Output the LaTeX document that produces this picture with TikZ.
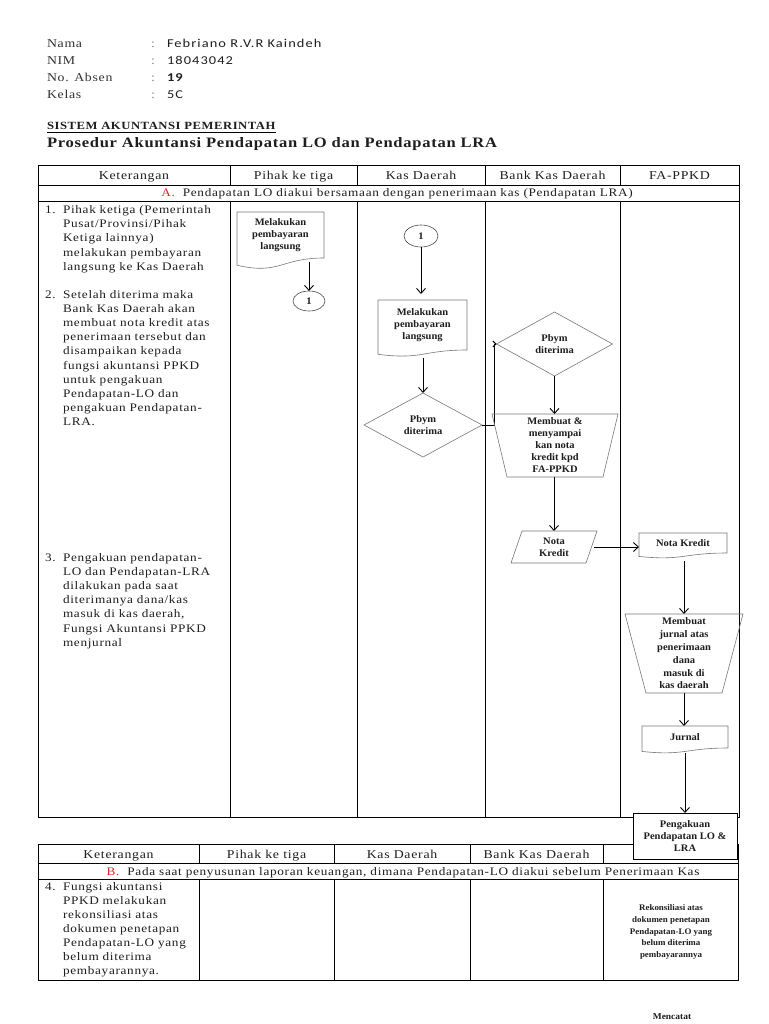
\documentclass[tikz,border=0pt]{standalone}
\usepackage{fontspec}
\setmainfont{Liberation Serif}[FakeStretch=1.15,LetterSpace=6]
\newfontfamily\labfont{Liberation Serif}[FakeStretch=1.15,LetterSpace=6]
\newfontfamily\valfont{Carlito}[FakeStretch=1.2,LetterSpace=9]
\newfontfamily\ttlfont{Liberation Serif}[FakeStretch=1.15,LetterSpace=5]
\newfontfamily\shpfont{Liberation Serif}[FakeStretch=1.05]
\usetikzlibrary{arrows.meta,calc,shapes.geometric}
\definecolor{shapegray}{RGB}{120,120,120}
\definecolor{txt}{RGB}{30,30,30}
\definecolor{lab}{RGB}{50,50,50}
\definecolor{aRed}{RGB}{225,35,35}
\newcommand\docline[2]{\draw[shp] (#1.north west) -- (#1.north east) -- (#1.south east)
  .. controls (#1.south) and ($(#1.south)+(0,#2)$) .. ($(#1.south west)+(0,{0.43*#2})$) -- cycle;}
\newcommand\trapline[2]{\draw[shp] (#1.north west) -- (#1.north east) -- ($(#1.south east)+(-#2,0)$) -- ($(#1.south west)+(#2,0)$) -- cycle;}
\newcommand\paraline[2]{\draw[shp] ($(#1.north west)+(#2,0)$) -- (#1.north east) -- ($(#1.south east)+(-#2,0)$) -- (#1.south west) -- cycle;}
\begin{document}
\begin{tikzpicture}[x=1pt,y=-1pt,
  every node/.style={inner sep=0pt,outer sep=0pt,text=txt},
  tline/.style={line width=0.9pt,draw=black},
  shp/.style={draw=shapegray,line width=0.6pt},
  arr/.style={line width=0.9pt,-{Straight Barb[length=5pt,width=9pt,line width=0.9pt]}},
  body/.style={font=\fontsize{11.5}{14.2}\selectfont,align=left,text width=200pt,anchor=base west},
  num/.style={font=\fontsize{11.5}{14.2}\selectfont,anchor=base west},
  colhead/.style={font=\fontsize{12}{14}\selectfont,anchor=base},
  sectxt/.style={font=\fontsize{11.5}{14}\selectfont,anchor=base},
  stxt/.style={font=\shpfont\bfseries\fontsize{10}{12}\selectfont,align=center},
  labst/.style={font=\labfont\fontsize{12}{14}\selectfont,anchor=base west,text=lab},
  colst/.style={font=\labfont\fontsize{12}{14}\selectfont,anchor=base west,text=gray},
  valst/.style={font=\valfont\fontsize{12}{14}\selectfont,anchor=base west},
  boxnode/.style={rectangle,draw=none}]
\fill[white] (0,0) rectangle (768,1024);
\useasboundingbox (0,0) rectangle (768,1024);

% header block
\node[labst] (lnama) at (47,48) {Nama};
\node[labst] (lnim) at (47,65) {NIM};
\node[labst] (labs) at (47,82) {No. Absen};
\node[labst] (lkel) at (47,99) {Kelas};
\node[colst] (c1a) at (151,48) {:};
\node[colst] (c2a) at (151,65) {:};
\node[colst] (c3a) at (151,82) {:};
\node[colst] (c4a) at (151,99) {:};
\node[valst] (vnama) at (167,48) {Febriano R.V.R Kaindeh};
\node[valst] (vnim) at (167,65) {18043042};
\node[valst] (vabs) at (167,82) {\bfseries 19};
\node[valst] (vkel) at (167,99) {5C};

\node[anchor=base west,font=\ttlfont\bfseries\fontsize{11}{13}\selectfont] (t1) at (47,130) {SISTEM AKUNTANSI PEMERINTAH};
\draw[line width=0.7pt] ($(t1.base west)+(0,2.5)$) -- ($(t1.base east)+(0,2.5)$);
\node[anchor=base west,font=\ttlfont\bfseries\fontsize{14.4}{16}\selectfont] (t2) at (47,148) {Prosedur Akuntansi Pendapatan LO dan Pendapatan LRA};

% top table
\draw[tline] (38,165) rectangle (739,817);
\draw[tline] (38,185) -- (739,185) (38,201) -- (739,201);
\foreach \xx in {230,357,485,620} {\draw[tline] (\xx,165) -- (\xx,185) (\xx,201) -- (\xx,817);}
\node[colhead] (h1) at (134,179.5) {Keterangan};
\node[colhead] (h2) at (293.5,179.5) {Pihak ke tiga};
\node[colhead] (h3) at (421,179.5) {Kas Daerah};
\node[colhead] (h4) at (552.5,179.5) {Bank Kas Daerah};
\node[colhead] (h5) at (679.5,179.5) {FA-PPKD};
\node[sectxt] (secA) at (397,197) {\textcolor{aRed}{A.}\ \ Pendapatan LO diakui bersamaan dengan penerimaan kas (Pendapatan LRA)};

\node[num] (n1) at (45,213.5) {1.};
\node[body] (k1) at (63,213.5) {Pihak ketiga (Pemerintah\\Pusat/Provinsi/Pihak\\Ketiga lainnya)\\melakukan pembayaran\\langsung ke Kas Daerah};
\node[num] (n2) at (45,298) {2.};
\node[body] (k2) at (63,298) {Setelah diterima maka\\Bank Kas Daerah akan\\membuat nota kredit atas\\penerimaan tersebut dan\\disampaikan kepada\\fungsi akuntansi PPKD\\untuk pengakuan\\Pendapatan-LO dan\\pengakuan Pendapatan-\\LRA.};
\node[num] (n3) at (45,561) {3.};
\node[body] (k3) at (63,561) {Pengakuan pendapatan-\\LO dan Pendapatan-LRA\\dilakukan pada saat\\diterimanya dana/kas\\masuk di kas daerah,\\Fungsi Akuntansi PPKD\\menjurnal};

% Pihak ke tiga
\node[boxnode,minimum width=87pt,minimum height=46pt,stxt] (p1) at (280.5,235) {Melakukan\\pembayaran\\langsung};
\docline{p1}{17}
\node[ellipse,draw=black!70,line width=0.6pt,minimum width=32pt,minimum height=20pt,stxt] (e1) at (309,301) {1};
\draw[arr] (p1.south -| e1.north) ++(0,4) -- (e1.north);

% Kas Daerah
\node[ellipse,draw=black!70,line width=0.6pt,minimum width=34pt,minimum height=22pt,stxt] (e2) at (421,236) {1};
\node[boxnode,minimum width=89pt,minimum height=50pt,stxt] (kd) at (422.5,325) {Melakukan\\pembayaran\\langsung};
\docline{kd}{10}
\draw[arr,shorten >=6pt] (e2.south) -- (kd.north -| e2.south);
\node[diamond,aspect=1.8,shp,minimum width=118pt,minimum height=64pt,stxt] (dk) at (423,425) {Pbym\\diterima};
\draw[arr] (kd.south -| dk.north) ++(0,8) -- (dk.north);

% Bank Kas Daerah
\node[diamond,aspect=1.8,shp,minimum width=116pt,minimum height=64pt,stxt] (db) at (554.5,344) {Pbym\\diterima};
\coordinate (bend) at (494,0);
\draw[line width=0.9pt,-{Straight Barb[length=3pt,width=6pt,line width=0.9pt]}] (dk.east) -- (dk.east -| bend) -- (db.west -| bend) -- (db.west);
\node[boxnode,minimum width=126pt,minimum height=63pt,stxt] (tb) at (555,445.5) {Membuat \&\\menyampai\\kan nota\\kredit kpd\\FA-PPKD};
\trapline{tb}{15}
\draw[arr] (db.south) -- (tb.north -| db.south);
\node[boxnode,minimum width=86pt,minimum height=32pt,stxt] (nk) at (554,547) {Nota\\Kredit};
\paraline{nk}{11}
\draw[arr] (tb.south -| nk.north) -- (nk.north);

% FA-PPKD
\node[boxnode,minimum width=88pt,minimum height=20pt,stxt] (fd1) at (683,543) {Nota Kredit};
\docline{fd1}{8}
\draw[arr] (nk.east) ++(-3,0) -- (fd1.west |- nk.east);
\node[boxnode,minimum width=118pt,minimum height=79pt,stxt,font=\shpfont\bfseries\fontsize{10}{12.8}\selectfont] (tf) at (684,653.5) {Membuat\\jurnal atas\\penerimaan\\dana\\masuk di\\kas daerah};
\trapline{tf}{21}
\draw[arr] (fd1.south -| tf.north) ++(0,8) -- (tf.north);
\node[boxnode,minimum width=86pt,minimum height=22pt,stxt] (fj) at (685,737) {Jurnal};
\docline{fj}{8}
\draw[arr] (tf.south) -- (fj.north -| tf.south);

% bottom table
\draw[tline] (38,844) rectangle (738,980);
\draw[tline] (38,863.5) -- (738,863.5) (38,879.5) -- (738,879.5);
\foreach \xx in {199,334,470,603} {\draw[tline] (\xx,844) -- (\xx,863.5) (\xx,879.5) -- (\xx,980);}
\node[colhead] (b1) at (118.5,858) {Keterangan};
\node[colhead] (b2) at (266.5,858) {Pihak ke tiga};
\node[colhead] (b3) at (402,858) {Kas Daerah};
\node[colhead] (b4) at (536.5,858) {Bank Kas Daerah};
\node[sectxt] (secB) at (403,875.5) {\textcolor{aRed}{B.}\ \ Pada saat penyusunan laporan keuangan, dimana Pendapatan-LO diakui sebelum Penerimaan Kas};
\node[num] (n4) at (45,890) {4.};
\node[body,font=\fontsize{11.5}{14}\selectfont] (k4) at (63,890) {Fungsi akuntansi\\PPKD melakukan\\rekonsiliasi atas\\dokumen penetapan\\Pendapatan-LO yang\\belum diterima\\pembayarannya.};
\node[stxt,font=\shpfont\bfseries\fontsize{8.5}{11.8}\selectfont] (rk) at (671,932) {Rekonsiliasi atas\\dokumen penetapan\\Pendapatan-LO yang\\belum diterima\\pembayarannya};

% Pengakuan box (on top)
\node[rectangle,draw=black,fill=white,line width=0.8pt,minimum width=104pt,minimum height=46pt,stxt] (pk) at (685,836) {Pengakuan\\Pendapatan LO \&\\LRA};
\draw[arr] (fj.south -| pk.north) ++(0,5) -- (pk.north);

\node[stxt,font=\shpfont\bfseries\fontsize{9}{11}\selectfont] (mc) at (672,1017) {Mencatat};
\end{tikzpicture}
\end{document}
